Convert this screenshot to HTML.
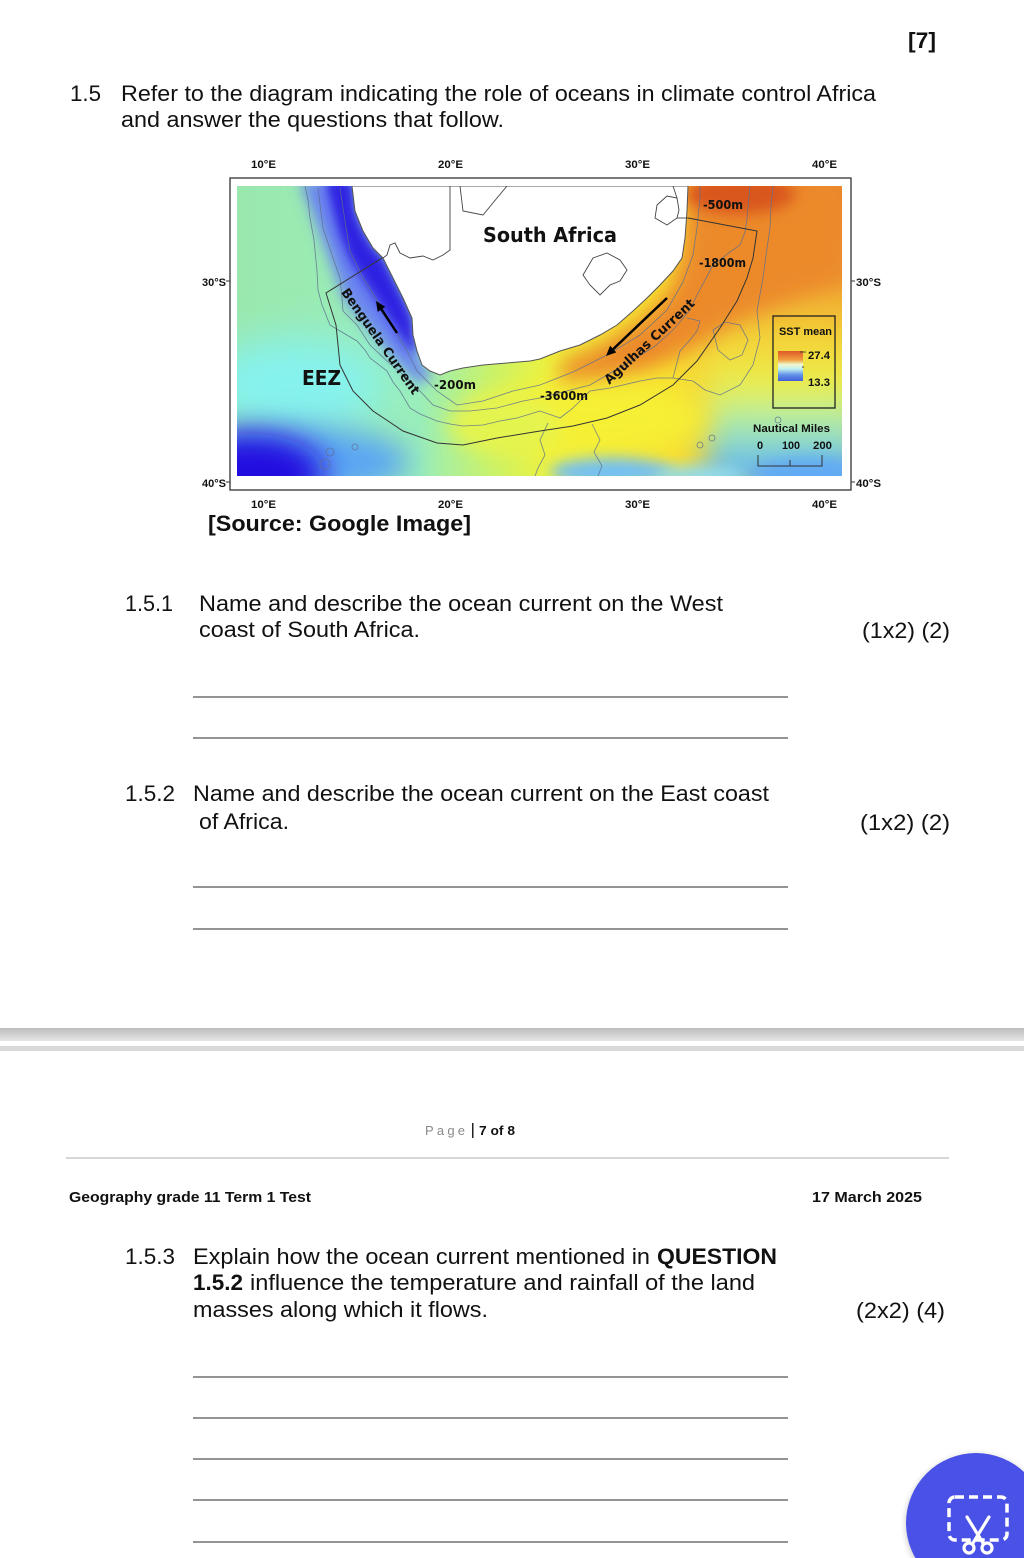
<!DOCTYPE html>
<html><head><meta charset="utf-8"><style>
html,body{margin:0;padding:0;background:#fff;}
svg{display:block;}
.t{font-family:"Liberation Sans",Arial,sans-serif;font-size:22px;fill:#111;}
.b{font-weight:bold;}
.m{font-family:"DejaVu Sans","Liberation Sans",sans-serif;font-weight:bold;fill:#111;}
.ax{font-family:"Liberation Sans",sans-serif;font-weight:bold;font-size:11px;fill:#111;}
</style></head><body>
<svg width="1024" height="1558" viewBox="0 0 1024 1558" xmlns="http://www.w3.org/2000/svg">
<defs>
<clipPath id="mc"><rect x="237" y="186" width="605" height="290"/></clipPath>
<linearGradient id="bg" x1="237" y1="0" x2="842" y2="0" gradientUnits="userSpaceOnUse">
<stop offset="0" stop-color="#9ae8ae"/><stop offset="0.3" stop-color="#9aeeba"/><stop offset="0.42" stop-color="#c8f26c"/><stop offset="0.52" stop-color="#eef23e"/><stop offset="0.7" stop-color="#f8e230"/><stop offset="0.85" stop-color="#f4c438"/><stop offset="1" stop-color="#f0b040"/>
</linearGradient>
<linearGradient id="rg" x1="0" y1="186" x2="0" y2="476" gradientUnits="userSpaceOnUse">
<stop offset="0" stop-color="#e87a2c"/><stop offset="0.3" stop-color="#ee9a30"/><stop offset="0.55" stop-color="#f4d838"/><stop offset="0.7" stop-color="#e8f050"/><stop offset="0.82" stop-color="#a8ecb0"/><stop offset="1" stop-color="#5ab0f4"/>
</linearGradient>
<linearGradient id="cb" x1="0" y1="351" x2="0" y2="381" gradientUnits="userSpaceOnUse">
<stop offset="0" stop-color="#e05828"/><stop offset="0.3" stop-color="#f0a040"/><stop offset="0.45" stop-color="#eef8d0"/><stop offset="0.6" stop-color="#c0f0f0"/><stop offset="0.8" stop-color="#6090e8"/><stop offset="1" stop-color="#4060d8"/>
</linearGradient>
<linearGradient id="gb" x1="0" y1="1028" x2="0" y2="1041" gradientUnits="userSpaceOnUse">
<stop offset="0" stop-color="#bdbdbd"/><stop offset="1" stop-color="#e6e6e6"/>
</linearGradient>
<filter id="f5" x="-50%" y="-50%" width="200%" height="200%"><feGaussianBlur stdDeviation="5"/></filter>
<filter id="f7" x="-50%" y="-50%" width="200%" height="200%"><feGaussianBlur stdDeviation="7"/></filter>
<filter id="f10" x="-50%" y="-50%" width="200%" height="200%"><feGaussianBlur stdDeviation="10"/></filter>
<filter id="f15" x="-50%" y="-50%" width="200%" height="200%"><feGaussianBlur stdDeviation="15"/></filter>
<filter id="f20" x="-50%" y="-50%" width="200%" height="200%"><feGaussianBlur stdDeviation="20"/></filter>
<filter id="sh" x="-30%" y="-30%" width="160%" height="160%"><feGaussianBlur stdDeviation="3"/></filter>
</defs>

<rect width="1024" height="1558" fill="#fff"/>

<!-- header text -->
<text class="t b" x="908" y="48" textLength="28" lengthAdjust="spacingAndGlyphs">[7]</text>
<text class="t" x="70" y="101" textLength="31" lengthAdjust="spacingAndGlyphs">1.5</text>
<text class="t" x="121" y="101" textLength="755" lengthAdjust="spacingAndGlyphs">Refer to the diagram indicating the role of oceans in climate control Africa</text>
<text class="t" x="121" y="127" textLength="383" lengthAdjust="spacingAndGlyphs">and answer the questions that follow.</text>

<!-- MAP -->
<g clip-path="url(#mc)">
<rect x="237" y="186" width="605" height="290" fill="url(#bg)"/>
<rect x="705" y="170" width="160" height="320" fill="url(#rg)" filter="url(#f15)"/>
<polygon points="560,362 600,345 640,320 670,290 685,250 688,180 850,180 850,280 790,300 740,320 700,345 650,370 600,385 560,392" fill="#ec8a2c" filter="url(#f10)"/>
<ellipse cx="740" cy="194" rx="55" ry="20" fill="#d9561e" filter="url(#f7)"/>
<ellipse cx="590" cy="418" rx="120" ry="34" fill="#f6f034" filter="url(#f15)"/>
<ellipse cx="505" cy="425" rx="55" ry="28" fill="#e4f450" filter="url(#f10)"/>
<ellipse cx="295" cy="385" rx="90" ry="48" fill="#86f2ee" filter="url(#f20)"/>
<ellipse cx="290" cy="462" rx="120" ry="36" fill="#5aa4f4" filter="url(#f15)"/>
<ellipse cx="250" cy="474" rx="75" ry="40" fill="#2410e0" filter="url(#f15)"/>
<ellipse cx="612" cy="472" rx="62" ry="14" fill="#72c0f4" filter="url(#f7)"/>
<ellipse cx="700" cy="476" rx="45" ry="10" fill="#90dcf0" filter="url(#f7)"/>
<ellipse cx="812" cy="474" rx="60" ry="16" fill="#62aaf4" filter="url(#f7)"/>
<polygon points="300,180 352,180 355,211 363,231 373,248 383,258 393,278 403,298 412,318 413,335 417,351 422,365 432,375 420,385 395,360 370,330 345,300 330,260 315,220" fill="#6a84f0" filter="url(#f7)"/>
<polygon points="325,180 352,180 355,211 363,231 373,248 383,258 393,278 403,298 412,318 413,335 417,351 410,350 390,320 370,290 350,260 338,230" fill="#2e22e2" filter="url(#f5)"/>

<!-- contours -->
<g fill="none" stroke="#5f6f8f" stroke-width="0.8" opacity="0.85">
<polyline points="305,186 308,200 310,218 314,240 317,271 318,290 322,305 330,325 340,331 357,341 365,350 370,358 387,371 393,382 400,391 410,408 420,414 437,421 450,424 463,426 483,425 500,421 517,418 540,411 560,418 573,408 590,391 610,388 623,385 640,381 657,378 673,378 680,351 690,340 697,331 700,321 687,318"/>
<polyline points="318,188 323,228 333,258 340,278 342,298 343,311 357,325 370,345 387,361 407,378 420,391 433,405 450,411 470,411 497,408 523,401 540,398 590,385 612,372 633,360 655,346 673,330 690,310 697,295 713,265 730,252 740,245 745,232 747,218 750,186"/>
<polyline points="340,188 345,221 350,251 363,278 380,305 393,328 407,351 417,371 437,391 457,405 483,401 513,391 540,385 573,372 607,355 640,335 667,310 683,282 693,255 697,228 700,198 700,186"/>
<polyline points="773,186 771,205 770,228 766,255 763,278 757,311 760,338 753,365 740,385 720,395 705,390 693,381 673,378"/>
<polygon points="713,330 725,322 740,325 748,340 742,355 730,360 718,350"/>
<polyline points="548,423 540,440 545,455 538,468 535,476"/>
<polyline points="592,424 600,440 594,452 602,466 598,476"/>
<circle cx="330" cy="452" r="4"/><circle cx="325" cy="464" r="5"/><circle cx="355" cy="447" r="3"/>
<circle cx="700" cy="445" r="3"/><circle cx="712" cy="438" r="3"/><circle cx="778" cy="420" r="3"/>
</g>

<!-- EEZ -->
<polyline points="382,258 326,293 336,325 340,365 353,391 373,411 403,431 437,443 463,445 497,438 540,431 573,426 607,418 640,405 673,385 697,361 720,328 737,301 747,278 753,258 757,231 688,218" fill="none" stroke="#333" stroke-width="1"/>

<!-- land -->
<path d="M352,186 L355,211 L363,231 L373,248 L383,258 L393,278 L403,298 L412,318 L413,335 L417,351 L422,365 L430,371 L440,375 L450,371 L463,368 L483,365 L507,363 L530,361 L540,359 L560,351 L580,345 L600,335 L617,325 L633,311 L647,298 L660,285 L673,271 L682,258 L685,238 L687,211 L688,186 Z" fill="#fff" stroke="#555" stroke-width="1"/>
<g fill="none" stroke="#444" stroke-width="0.9">
<polyline points="450,186 450,250 443,255 433,260 423,256 410,258 400,253 395,243 390,245 387,255 383,258"/>
<polyline points="460,186 463,211 483,215 497,198 507,186"/>
<polygon points="657,205 667,196 677,198 679,210 677,218 667,225 655,218"/>
<polyline points="673,186 677,198"/>
<polyline points="677,218 688,218"/>
<polygon points="583,275 593,258 607,253 620,260 627,270 620,281 610,285 600,295 590,285"/>
</g>
</g>

<!-- frame -->
<rect x="230" y="178" width="621" height="312" fill="none" stroke="#333" stroke-width="1.3"/>
<g stroke="#333" stroke-width="1">
<line x1="226" y1="281" x2="230" y2="281"/><line x1="226" y1="482" x2="230" y2="482"/>
<line x1="851" y1="281" x2="855" y2="281"/><line x1="851" y1="482" x2="855" y2="482"/>
</g>
<text class="ax" x="251" y="168" textLength="25" lengthAdjust="spacingAndGlyphs">10°E</text>
<text class="ax" x="438" y="168" textLength="25" lengthAdjust="spacingAndGlyphs">20°E</text>
<text class="ax" x="625" y="168" textLength="25" lengthAdjust="spacingAndGlyphs">30°E</text>
<text class="ax" x="812" y="168" textLength="25" lengthAdjust="spacingAndGlyphs">40°E</text>
<text class="ax" x="251" y="508" textLength="25" lengthAdjust="spacingAndGlyphs">10°E</text>
<text class="ax" x="438" y="508" textLength="25" lengthAdjust="spacingAndGlyphs">20°E</text>
<text class="ax" x="625" y="508" textLength="25" lengthAdjust="spacingAndGlyphs">30°E</text>
<text class="ax" x="812" y="508" textLength="25" lengthAdjust="spacingAndGlyphs">40°E</text>
<text class="ax" x="202" y="286" textLength="24" lengthAdjust="spacingAndGlyphs">30°S</text>
<text class="ax" x="202" y="487" textLength="24" lengthAdjust="spacingAndGlyphs">40°S</text>
<text class="ax" x="856" y="286" textLength="25" lengthAdjust="spacingAndGlyphs">30°S</text>
<text class="ax" x="856" y="487" textLength="25" lengthAdjust="spacingAndGlyphs">40°S</text>

<!-- map labels -->
<text class="m" x="483" y="242" font-size="20" textLength="134" lengthAdjust="spacingAndGlyphs">South Africa</text>
<text class="m" x="703" y="209" font-size="12" textLength="40" lengthAdjust="spacingAndGlyphs">-500m</text>
<text class="m" x="699" y="267" font-size="12" textLength="47" lengthAdjust="spacingAndGlyphs">-1800m</text>
<text class="m" x="434" y="389" font-size="12" textLength="42" lengthAdjust="spacingAndGlyphs">-200m</text>
<text class="m" x="540" y="400" font-size="12" textLength="48" lengthAdjust="spacingAndGlyphs">-3600m</text>
<text class="m" x="302" y="385" font-size="20" textLength="39" lengthAdjust="spacingAndGlyphs">EEZ</text>
<g transform="translate(381,341) rotate(55)"><text class="m" x="0" y="5" font-size="13" text-anchor="middle" textLength="126" lengthAdjust="spacingAndGlyphs">Benguela Current</text></g>
<g transform="translate(649,341) rotate(-43)"><text class="m" x="0" y="5" font-size="13" text-anchor="middle" textLength="118" lengthAdjust="spacingAndGlyphs">Agulhas Current</text></g>
<line x1="397" y1="333" x2="381.5" y2="309.4" stroke="#000" stroke-width="2.5"/>
<polygon points="376,301 385.3,306.9 377.7,311.9" fill="#000"/>
<line x1="667" y1="298" x2="613.2" y2="349.1" stroke="#000" stroke-width="2.5"/>
<polygon points="606,356 616.3,352.4 610.1,345.8" fill="#000"/>

<!-- legend -->
<rect x="773" y="316" width="62" height="92" fill="none" stroke="#222" stroke-width="1.3"/>
<text class="ax" x="779" y="335" font-size="12" textLength="53" lengthAdjust="spacingAndGlyphs">SST mean</text>
<rect x="778" y="351" width="25" height="30" fill="url(#cb)"/>
<line x1="800" y1="352" x2="806" y2="352" stroke="#333" stroke-width="0.8"/>
<circle cx="803" cy="367" r="0.8" fill="#333"/>
<text class="ax" x="808" y="359" textLength="22" lengthAdjust="spacingAndGlyphs">27.4</text>
<text class="ax" x="808" y="386" textLength="22" lengthAdjust="spacingAndGlyphs">13.3</text>
<text class="ax" x="753" y="432" font-size="12" textLength="77" lengthAdjust="spacingAndGlyphs">Nautical Miles</text>
<text class="ax" x="757" y="449">0</text>
<text class="ax" x="782" y="449" textLength="18" lengthAdjust="spacingAndGlyphs">100</text>
<text class="ax" x="813" y="449" textLength="19" lengthAdjust="spacingAndGlyphs">200</text>
<polyline points="758,455 758,466 822,466 822,455" fill="none" stroke="#333" stroke-width="1"/>
<line x1="790" y1="460" x2="790" y2="466" stroke="#333" stroke-width="1"/>

<text class="t b" x="208" y="531" textLength="263" lengthAdjust="spacingAndGlyphs">[Source: Google Image]</text>

<!-- 1.5.1 -->
<text class="t" x="125" y="611" textLength="48" lengthAdjust="spacingAndGlyphs">1.5.1</text>
<text class="t" x="199" y="611" textLength="524" lengthAdjust="spacingAndGlyphs">Name and describe the ocean current on the West</text>
<text class="t" x="199" y="637" textLength="221" lengthAdjust="spacingAndGlyphs">coast of South Africa.</text>
<text class="t" x="862" y="638" textLength="88" lengthAdjust="spacingAndGlyphs">(1x2) (2)</text>
<g stroke="#555" stroke-width="1.2">
<line x1="193" y1="697" x2="788" y2="697"/><line x1="193" y1="738" x2="788" y2="738"/>
</g>

<!-- 1.5.2 -->
<text class="t" x="125" y="801" textLength="50" lengthAdjust="spacingAndGlyphs">1.5.2</text>
<text class="t" x="193" y="801" textLength="576" lengthAdjust="spacingAndGlyphs">Name and describe the ocean current on the East coast</text>
<text class="t" x="199" y="829" textLength="90" lengthAdjust="spacingAndGlyphs">of Africa.</text>
<text class="t" x="860" y="830" textLength="90" lengthAdjust="spacingAndGlyphs">(1x2) (2)</text>
<g stroke="#555" stroke-width="1.2">
<line x1="193" y1="887" x2="788" y2="887"/><line x1="193" y1="929" x2="788" y2="929"/>
</g>

<!-- page break bars -->
<rect x="0" y="1028" width="1024" height="13" fill="url(#gb)"/>
<rect x="0" y="1046" width="1024" height="5" fill="#d9d9d9"/>

<!-- footer/header -->
<text x="425" y="1135" font-family="Liberation Sans, sans-serif" font-size="13" fill="#8a8a8a" textLength="40" lengthAdjust="spacing">Page</text>
<rect x="472" y="1123" width="1.5" height="15" fill="#222"/>
<text x="479" y="1135" font-family="Liberation Sans, sans-serif" font-size="13" font-weight="bold" fill="#111" textLength="36" lengthAdjust="spacingAndGlyphs">7 of 8</text>
<line x1="66" y1="1158" x2="949" y2="1158" stroke="#d6d6d6" stroke-width="2"/>
<text x="69" y="1202" font-family="Liberation Sans, sans-serif" font-size="15" font-weight="bold" fill="#111" textLength="242" lengthAdjust="spacingAndGlyphs">Geography grade 11 Term 1  Test</text>
<text x="812" y="1202" font-family="Liberation Sans, sans-serif" font-size="15" font-weight="bold" fill="#111" textLength="110" lengthAdjust="spacingAndGlyphs">17  March 2025</text>

<!-- 1.5.3 -->
<text class="t" x="125" y="1264" textLength="50" lengthAdjust="spacingAndGlyphs">1.5.3</text>
<text class="t" x="193" y="1264" textLength="457" lengthAdjust="spacingAndGlyphs">Explain how the ocean current mentioned in</text>
<text class="t b" x="657" y="1264" textLength="120" lengthAdjust="spacingAndGlyphs">QUESTION</text>
<text class="t b" x="193" y="1290" textLength="50" lengthAdjust="spacingAndGlyphs">1.5.2</text>
<text class="t" x="250" y="1290" textLength="505" lengthAdjust="spacingAndGlyphs">influence the temperature and rainfall of the land</text>
<text class="t" x="193" y="1317" textLength="295" lengthAdjust="spacingAndGlyphs">masses along which it flows.</text>
<text class="t" x="856" y="1318" textLength="89" lengthAdjust="spacingAndGlyphs">(2x2) (4)</text>
<g stroke="#555" stroke-width="1.2">
<line x1="193" y1="1377" x2="788" y2="1377"/><line x1="193" y1="1418" x2="788" y2="1418"/>
<line x1="193" y1="1459" x2="788" y2="1459"/><line x1="193" y1="1500" x2="788" y2="1500"/>
<line x1="193" y1="1542" x2="788" y2="1542"/>
</g>

<!-- floating button -->
<circle cx="976" cy="1525" r="71" fill="#000" opacity="0.18" filter="url(#sh)"/>
<circle cx="976" cy="1523" r="70" fill="#4a51e7"/>
<rect x="949" y="1497" width="58" height="43" rx="6" fill="none" stroke="#fff" stroke-width="3.5" stroke-dasharray="9,5"/>
<g stroke="#fff" stroke-width="3.2" stroke-linecap="round" fill="none">
<line x1="967" y1="1517" x2="983" y2="1543"/>
<line x1="989" y1="1517" x2="973" y2="1543"/>
<circle cx="969" cy="1548" r="5"/>
<circle cx="987" cy="1548" r="5"/>
</g>
</svg>
</body></html>
